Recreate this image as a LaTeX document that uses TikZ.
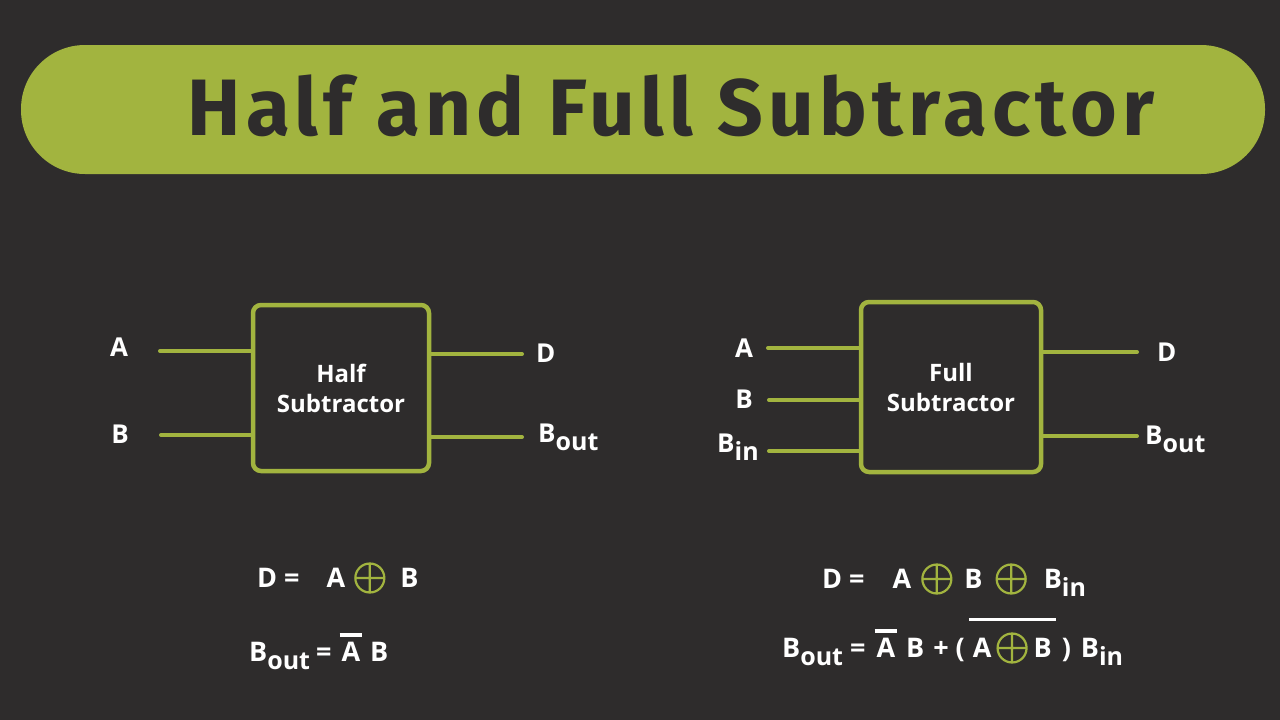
\documentclass[tikz,border=0pt]{standalone}
\usepackage{fontspec}
\setmainfont{Open Sans}
\newfontfamily\titlefont[LetterSpace=6.5]{Fira Sans}
\usetikzlibrary{calc}
\definecolor{bgdark}{HTML}{2E2C2C}
\definecolor{lime}{HTML}{A2B43F}

\newcommand\xorsym{\tikz[baseline=-9pt]{\draw[lime, line width=2.2pt] (0,0) circle (14.5pt) (-14.5pt,0) -- (14.5pt,0) (0,-14.5pt) -- (0,14.5pt);}}
\newcommand\sub[1]{\raisebox{-8pt}{\fontsize{25}{25}\selectfont #1}}
\newcommand\topbar[3]{\leavevmode\vbox{\hrule height 3.5pt\kern #1\hbox{\kern#2#3\kern#2}}}

\begin{document}
\begin{tikzpicture}[x=1pt,y=-1pt,
  block/.style={draw=lime, line width=4.5pt, rounded corners=8pt, minimum width=176pt,
    minimum height=166pt, align=center, text=white, font=\bfseries\fontsize{24}{30}\selectfont},
  wire/.style={draw=lime, line width=4pt, line cap=round},
  lbl/.style={text=white, font=\bfseries\fontsize{26}{26}\selectfont, inner sep=0pt},
  eqn/.style={text=white, font=\bfseries\fontsize{27}{27}\selectfont, inner sep=0pt, anchor=base west}]
\fill[bgdark] (0,0) rectangle (1280,720);
\useasboundingbox (0,0) rectangle (1280,720);

% title
\fill[lime, rounded corners=64pt] (21,45) rectangle (1265,174);
\node[text=bgdark, font=\titlefont\bfseries\fontsize{80}{80}\selectfont] (title) at (671,106) {Half and Full Subtractor};

% half subtractor
\node[block] (hs) at (341,388) {Half\\Subtractor};
\coordinate (hsa) at (160,351);
\coordinate (hsb) at (161,435);
\coordinate (hsd) at (522,354);
\coordinate (hsbo) at (522,437);
\draw[wire] (hsa) -- (hsa -| hs.west);
\draw[wire] (hsb) -- (hsb -| hs.west);
\draw[wire] (hsd -| hs.east) -- (hsd);
\draw[wire] (hsbo -| hs.east) -- (hsbo);
\node[lbl] (la) at (119,347) {A};
\node[lbl] (lb) at (120,434) {B};
\node[lbl, anchor=west] (ld) at (536,353) {D};
\node[lbl, anchor=west] (lbo) at (538,437) {B\sub{out}};

% full subtractor
\node[block, minimum width=180pt, minimum height=170pt] (fs) at (951,387) {Full\\Subtractor};
\coordinate (fsa) at (768,348);
\coordinate (fsb) at (769,400);
\coordinate (fsc) at (769,451);
\coordinate (fsd) at (1137,352);
\coordinate (fsbo) at (1137,436);
\draw[wire] (fsa) -- (fsa -| fs.west);
\draw[wire] (fsb) -- (fsb -| fs.west);
\draw[wire] (fsc) -- (fsc -| fs.west);
\draw[wire] (fsd -| fs.east) -- (fsd);
\draw[wire] (fsbo -| fs.east) -- (fsbo);
\node[lbl] (ra) at (744,348) {A};
\node[lbl] (rb) at (744,399) {B};
\node[lbl, anchor=west] (rc) at (717,447) {B\sub{in}};
\node[lbl, anchor=west] (rd) at (1157,352) {D};
\node[lbl, anchor=west] (rbo) at (1145,439) {B\sub{out}};

% equations
\node[eqn] (hd) at (257,587) {D =\hspace{27pt}A\hspace{9pt}\xorsym\hspace{15pt}B};
\node[eqn] (hbo) at (249,661) {B\sub{out}\hspace{6pt}=\hspace{8pt}\topbar{5pt}{2pt}{A}\hspace{8pt}B};
\node[eqn] (fd) at (822,588) {D =\hspace{28pt}A\hspace{10pt}\xorsym\hspace{12pt}B\hspace{13pt}\xorsym\hspace{17pt}B\sub{in}};
\node[eqn] (fbo) at (782,657) {B\sub{out}\hspace{7pt}=\hspace{9pt}\topbar{5pt}{2pt}{A}\hspace{9pt}B\hspace{9pt}+\hspace{7pt}(\hspace{4pt}\topbar{11pt}{4pt}{A\hspace{5pt}\xorsym\hspace{6pt}B}\hspace{6pt})\hspace{10pt}B\sub{in}};
\end{tikzpicture}
\end{document}
